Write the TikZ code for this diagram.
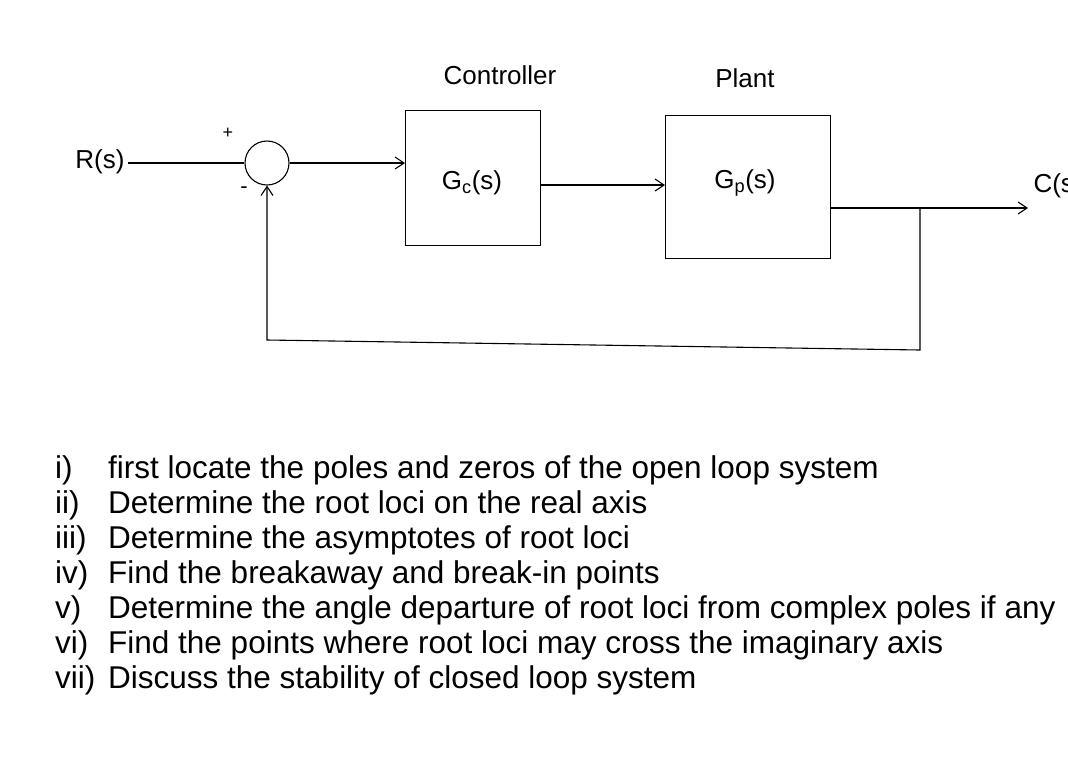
\documentclass[tikz,border=0pt]{standalone}
\usepackage{fontspec}
\setmainfont{Liberation Sans}
\usetikzlibrary{arrows.meta}
\begin{document}
\begin{tikzpicture}[x=1pt,y=-1pt,
  hand/.style={font=\fontsize{26}{28}\selectfont},
  wire/.style={line width=1.1pt},
  arr/.style={wire,-{Straight Barb[length=9pt,width=12pt]}},
  item/.style={anchor=base west,font=\fontsize{31.5}{35}\selectfont}]
\useasboundingbox (0,0) rectangle (1068,756);
\node[hand,anchor=east] (R) at (128,162) {R(s)};
\node[draw,circle,line width=1.1pt,minimum size=44pt,inner sep=0] (sum) at (267,163) {};
\node[font=\fontsize{18}{18}\selectfont] (plus) at (228,133) {+};
\node[font=\fontsize{22}{22}\selectfont] (minus) at (244,190) {-};
\node[draw,line width=1pt,minimum width=135pt,minimum height=135pt,anchor=north west,inner sep=0] (gc) at (405,110) {};
\node[hand] (gct) at (472,183) {G\textsubscript{c}(s)};
\node[hand] (ctl) at (500,75) {Controller};
\node[draw,line width=1pt,minimum width=165pt,minimum height=143pt,anchor=north west,inner sep=0] (gp) at (665,115) {};
\node[hand] (gpt) at (745,183) {G\textsubscript{p}(s)};
\node[hand] (plant) at (745,78) {Plant};
\node[hand,anchor=west] (C) at (1030,186) {C(s)};
\coordinate (br) at (920,208);
\coordinate (bd) at (920,350);
\coordinate (bl) at (267,340);
\draw[wire] (R.east |- sum.west) -- (sum.west);
\draw[arr] (sum.east) -- (gc.west |- sum.east);
\draw[arr] (gc.east |- 0,185) -- (gp.west |- 0,185);
\draw[arr] (gp.east |- br) -- (1028,208);
\draw[arr] (br) -- (bd) -- (bl) -- (sum.south);
\foreach \n/\l/\t [count=\i] in {
 a/i)/first locate the poles and zeros of the open loop system,
 b/ii)/Determine the root loci on the real axis,
 c/iii)/Determine the asymptotes of root loci,
 d/iv)/Find the breakaway and break-in points,
 e/v)/Determine the angle departure of root loci from complex poles if any,
 f/vi)/Find the points where root loci may cross the imaginary axis,
 g/vii)/Discuss the stability of closed loop system}{
 \node[item,inner sep=0] (l\n) at (55,{443+35*\i}) {\l};
 \node[item,inner sep=0] (t\n) at (108,{443+35*\i}) {\t};
}
\end{tikzpicture}
\end{document}
